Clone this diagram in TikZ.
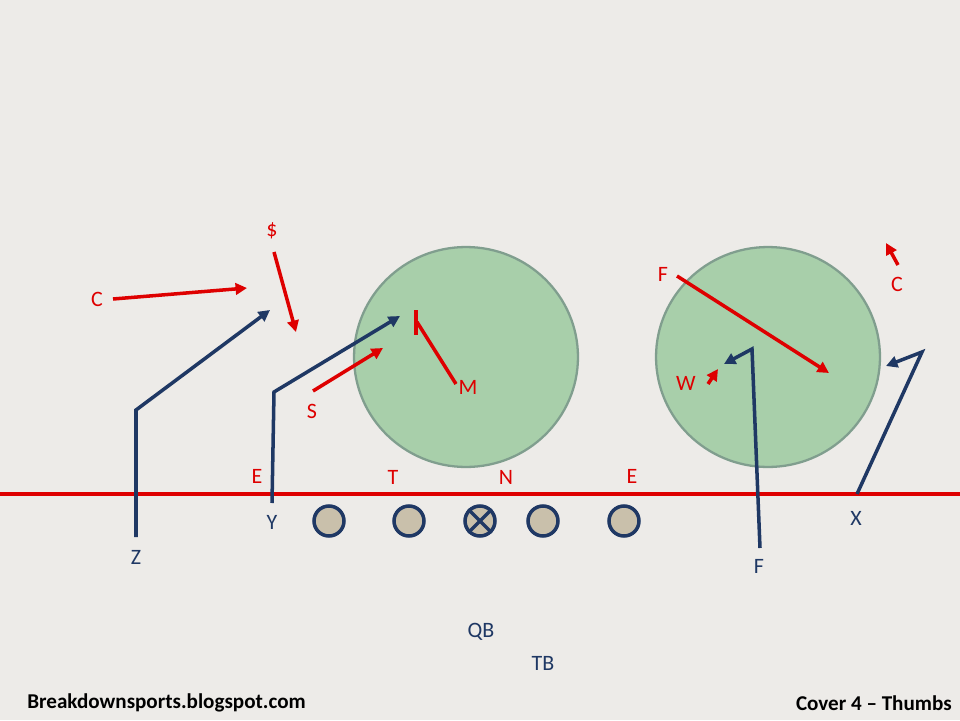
\documentclass[tikz,border=0pt]{standalone}
\usepackage{fontspec}
\setmainfont{Carlito}
\usetikzlibrary{arrows.meta,shapes.geometric}
\definecolor{bgray}{RGB}{237,235,232}
\definecolor{dred}{RGB}{222,0,0}
\definecolor{navy}{RGB}{31,56,100}
\definecolor{zonegreen}{RGB}{168,207,170}
\definecolor{zoneedge}{RGB}{128,158,142}
\definecolor{tan}{RGB}{201,192,171}
\tikzset{
  lbl/.style={inner sep=0pt, font=\fontsize{12.5}{14}\selectfont},
  defl/.style={lbl, text=dred},
  offl/.style={lbl, text=navy},
  defroute/.style={draw=dred, line width=2pt, -{Triangle[length=6.5pt,width=6.5pt]}},
  offroute/.style={draw=navy, line width=2pt, line join=miter, -{Triangle[length=6.5pt,width=6.5pt]}},
  zone/.style={ellipse, draw=zoneedge, fill=zonegreen, line width=1.3pt, minimum width=4.48cm, minimum height=4.4cm},
  oline/.style={circle, draw=navy, fill=tan, line width=2pt, minimum size=0.6cm, inner sep=0pt}
}
\begin{document}
\begin{tikzpicture}[x=0.02cm, y=-0.02cm]
    \fill[bgray] (0,0) rectangle (960,720);
    \useasboundingbox (0,0) rectangle (960,720);
    % zones
    \node[zone] (hook) at (466,357) {};
    \node[zone] (thumb) at (768,357) {};
    % line of scrimmage
    \coordinate (losl) at (0,494);
    \coordinate (losr) at (960,494);
    \draw[dred, line width=2pt] (losl) -- (losr);
    % offensive line
    \node[oline] (lt) at (329,521) {};
    \node[oline] (lg) at (409,521) {};
    \node[oline] (c) at (480,521) {};
    \node[oline] (rg) at (543,521) {};
    \node[oline] (rt) at (624,521) {};
    \draw[navy, line width=2pt] (c.45) -- (c.225) (c.135) -- (c.315);
    % defense
    \node[defl] (dol) at (272,231) {\$};
    \node[defl] (cl) at (97,299) {C};
    \node[defl] (s) at (312,411) {S};
    \node[defl] (m) at (468,387) {M};
    \node[defl] (el) at (257,476) {E};
    \node[defl] (t) at (393,477) {T};
    \node[defl] (n) at (506,477) {N};
    \node[defl] (er) at (632,476) {E};
    \node[defl] (f) at (663,274) {F};
    \node[defl] (w) at (686,383) {W};
    \node[defl] (cr) at (897,284) {C};
    \coordinate (cl1) at (113,299);  \coordinate (cl2) at (247,288);
    \coordinate (dol1) at (274,252); \coordinate (dol2) at (296,332);
    \coordinate (s1) at (313,391);   \coordinate (s2) at (383,348);
    \coordinate (m1) at (456,384);   \coordinate (m2) at (417,322);
    \coordinate (mb1) at (416,310);  \coordinate (mb2) at (416,335);
    \coordinate (f1) at (677,276);   \coordinate (f2) at (829,373);
    \coordinate (w1) at (708,384);   \coordinate (w2) at (718,369);
    \coordinate (cr1) at (898,265);  \coordinate (cr2) at (886,243);
    \draw[defroute] (cl1) -- (cl2);
    \draw[defroute] (dol1) -- (dol2);
    \draw[defroute] (s1) -- (s2);
    \draw[defroute, -] (m1) -- (m2);
    \draw[defroute, -] (mb1) -- (mb2);
    \draw[defroute] (f1) -- (f2);
    \draw[defroute] (w1) -- (w2);
    \draw[defroute] (cr1) -- (cr2);
    % offense
    \node[offl] (y) at (272,522) {Y};
    \node[offl] (z) at (136,557) {Z};
    \node[offl] (fl) at (759,566) {F};
    \node[offl] (x) at (856,518) {X};
    \node[offl] (qb) at (481,632) {QB};
    \node[offl] (tb) at (543,663) {TB};
    \coordinate (z1) at (136,537);  \coordinate (z2) at (136,410);  \coordinate (z3) at (270,310);
    \coordinate (y1) at (272,503);  \coordinate (y2) at (274,392);  \coordinate (y3) at (400,316);
    \coordinate (fl1) at (760,548); \coordinate (fl2) at (752,349); \coordinate (fl3) at (724,364);
    \coordinate (x1) at (857,494);  \coordinate (x2) at (922,352);  \coordinate (x3) at (886,366);
    \draw[offroute] (z1) -- (z2) -- (z3);
    \draw[offroute] (y1) -- (y2) -- (y3);
    \draw[offroute] (fl1) -- (fl2) -- (fl3);
    \draw[offroute] (x1) -- (x2) -- (x3);
    % footer
    \node[lbl, anchor=west, font=\fontsize{12}{14}\selectfont\bfseries] (site) at (27,703) {Breakdownsports.blogspot.com};
    \node[lbl, anchor=east, font=\fontsize{12}{14}\selectfont\bfseries] (title) at (952,703) {Cover 4 – Thumbs};
\end{tikzpicture}
\end{document}
